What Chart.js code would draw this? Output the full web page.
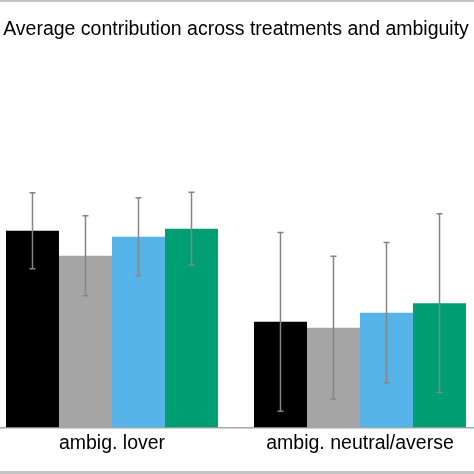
<!DOCTYPE html>
<html lang="en">
<head>
<meta charset="UTF-8">
<title>Average contribution across treatments and ambiguity</title>
<script src="https://cdn.jsdelivr.net/npm/chart.js"></script>
<style>
  html, body { margin: 0; padding: 0; background: #fff; overflow: hidden; }
  body { width: 474px; height: 474px; position: relative; }
  /* chart is a bit wider than the window, like the cropped original */
  #wrap { position: absolute; left: -12px; top: 0; width: 496px; height: 474px; }
  .edge { position: absolute; left: 0; width: 474px; background: #c4c4c4; }
</style>
</head>
<body>
<div id="wrap"><canvas id="contribChart"></canvas></div>
<div class="edge" style="top:0;height:2px"></div>
<div class="edge" style="top:471px;height:3px"></div>

<script>
  // categories
  const groups = ['ambig. lover', 'ambig. neutral/averse'];

  // series (treatments), values and error bar half-lengths
  const treatments = ['Treatment 1', 'Treatment 2', 'Treatment 3', 'Treatment 4'];
  const t1Values = [9.85, 5.29];
  const t2Values = [8.60, 5.00];
  const t3Values = [9.55, 5.75];
  const t4Values = [9.95, 6.22];
  const t1Errors = [1.90, 4.47];
  const t2Errors = [2.00, 3.57];
  const t3Errors = [1.95, 3.51];
  const t4Errors = [1.82, 4.47];

  const colors = ['#000000', '#a5a5a5', '#56b4e9', '#009e73'];
  const allValues = [t1Values, t2Values, t3Values, t4Values];
  const allErrors = [t1Errors, t2Errors, t3Errors, t4Errors];

  // draws the error bars using the y scale
  const errorBars = {
    id: 'errorBars',
    afterDatasetsDraw(chart) {
      const ctx = chart.ctx;
      const yScale = chart.scales.y;
      ctx.save();
      ctx.strokeStyle = '#858585';
      ctx.lineWidth = 1.5;
      chart.data.datasets.forEach((ds, i) => {
        const meta = chart.getDatasetMeta(i);
        meta.data.forEach((bar, j) => {
          const v = ds.data[j];
          const e = ds.errors[j];
          const top = yScale.getPixelForValue(v + e);
          const bot = yScale.getPixelForValue(v - e);
          ctx.beginPath();
          ctx.moveTo(bar.x, top);
          ctx.lineTo(bar.x, bot);
          ctx.moveTo(bar.x - 3, top);
          ctx.lineTo(bar.x + 3, top);
          ctx.moveTo(bar.x - 3, bot);
          ctx.lineTo(bar.x + 3, bot);
          ctx.stroke();
        });
      });
      ctx.restore();
    }
  };

  const datasets = treatments.map((name, i) => ({
    label: name,
    data: allValues[i],
    errors: allErrors[i],
    backgroundColor: colors[i],
    borderWidth: 0,
    barPercentage: 1.0,
    categoryPercentage: 0.855
  }));

  new Chart(document.getElementById('contribChart').getContext('2d'), {
    type: 'bar',
    data: { labels: groups, datasets: datasets },
    options: {
      responsive: true,
      maintainAspectRatio: false,
      animation: false,
      layout: { padding: { left: 0, right: 0, top: 0, bottom: 15 } },
      plugins: {
        legend: { display: false },
        tooltip: { enabled: false },
        title: {
          display: true,
          text: 'Average contribution across treatments and ambiguity',
          color: '#000',
          font: { family: 'Liberation Sans, Arial, sans-serif', size: 19.5, weight: 'normal' },
          padding: { top: 18, bottom: 26.3 }
        }
      },
      scales: {
        x: {
          grid: { display: false, drawTicks: false },
          border: { display: true, color: '#a8a8a8', width: 1.5 },
          ticks: {
            color: '#000',
            padding: 4,
            font: { family: 'Liberation Sans, Arial, sans-serif', size: 19.5 }
          }
        },
        y: {
          display: false,
          min: 0,
          max: 18
        }
      }
    },
    plugins: [errorBars]
  });
</script>
</body>
</html>
